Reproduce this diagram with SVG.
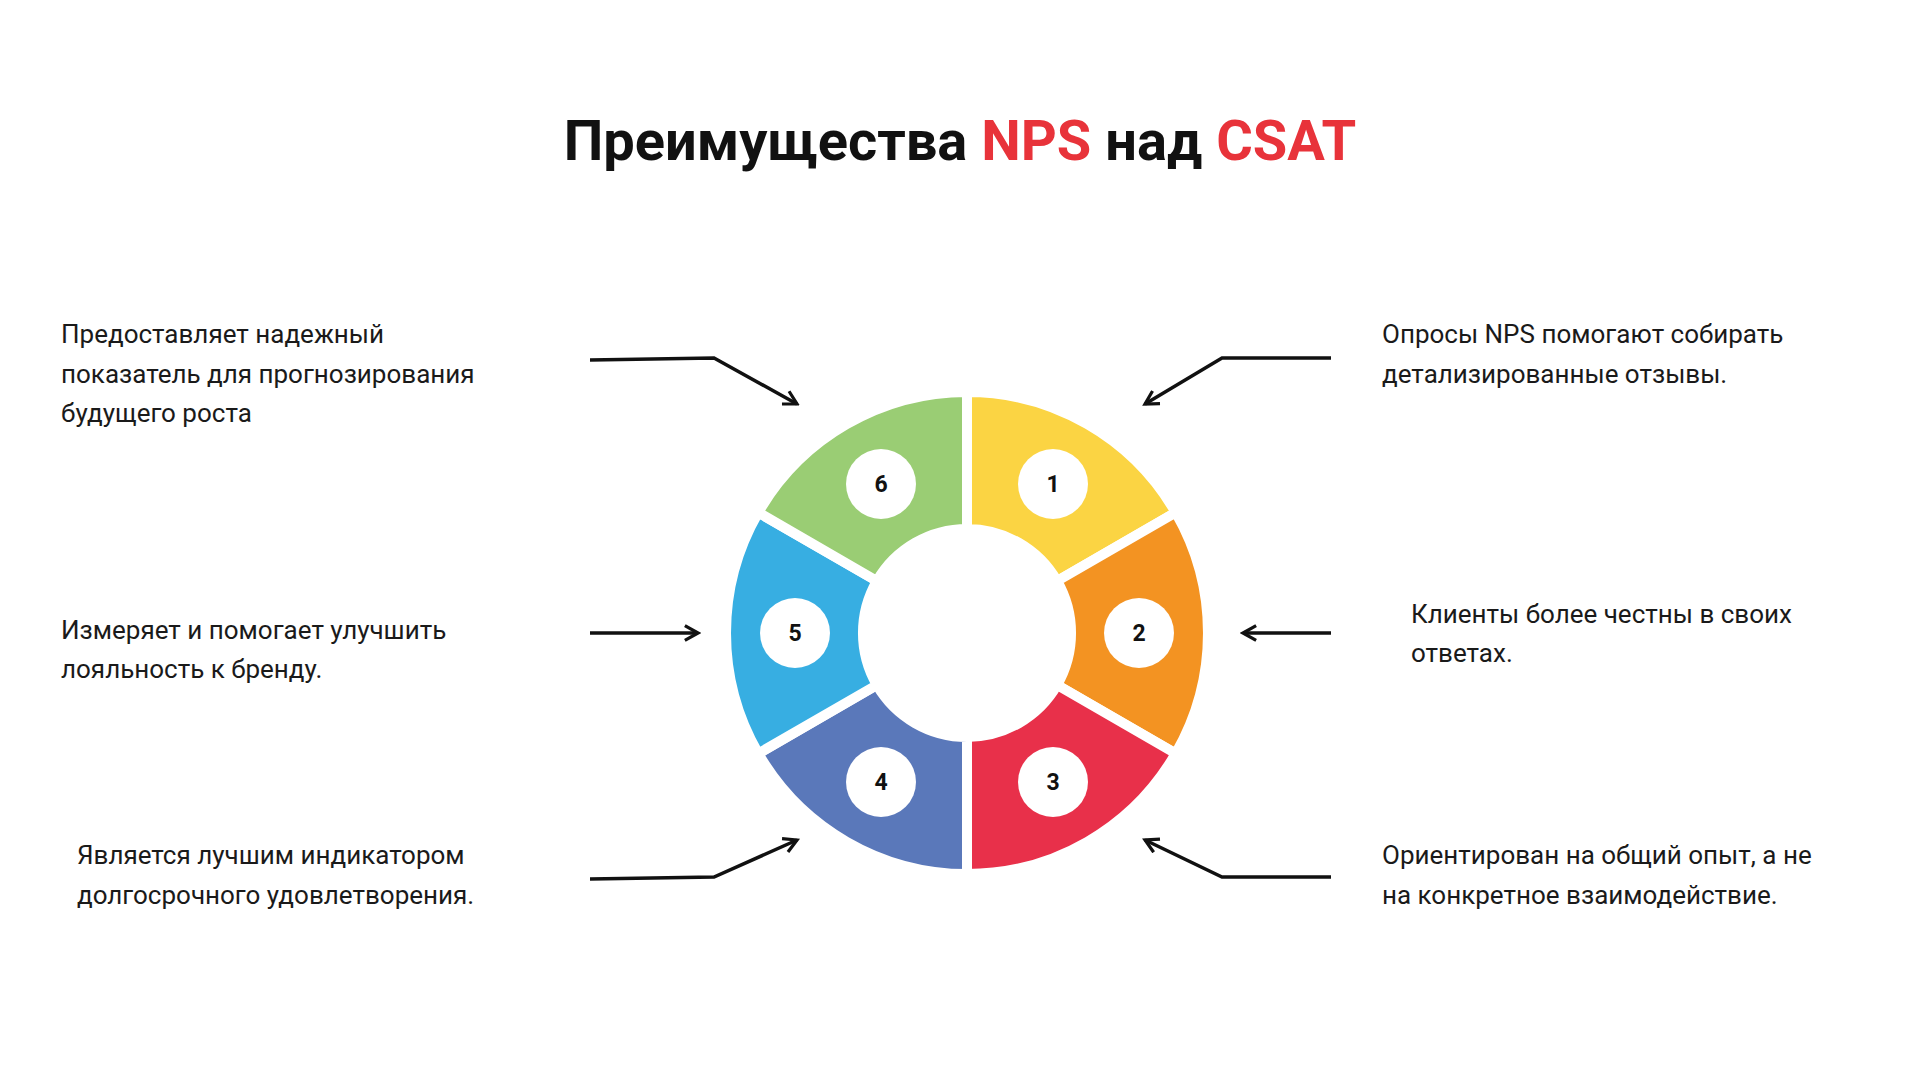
<svg xmlns="http://www.w3.org/2000/svg" width="1920" height="1080" viewBox="0 0 1920 1080">
<defs>
<style>
.t{font-family:Roboto,"Liberation Sans",sans-serif;font-size:26px;fill:#1a1a1a}
.seg{stroke:#fff;stroke-width:10;stroke-linejoin:miter}
.num{font-family:Roboto,"Liberation Sans",sans-serif;font-size:23px;font-weight:bold;fill:#111;text-anchor:middle}
.ar{fill:none;stroke:#111;stroke-width:3.5;marker-end:url(#ah)}
</style>
<marker id="ah" viewBox="0 0 12 12" refX="10" refY="6" markerWidth="5" markerHeight="5" orient="auto" markerUnits="strokeWidth">
<path d="M1,1 L10,6 L1,11" fill="none" stroke="#111" stroke-width="2.2"/>
</marker>
</defs>
<rect width="1920" height="1080" fill="#fff"/>
<text x="960" y="160" text-anchor="middle" font-family="Roboto,'Liberation Sans',sans-serif" font-size="56" font-weight="bold" fill="#111">Преимущества <tspan fill="#E8333A">NPS</tspan> над <tspan fill="#E8333A">CSAT</tspan></text>
<g id="seg1"><path class="seg" fill="#FBD443" d="M967,392 A241,241 0 0 1 1175.7,512.5 L1057.1,581 A104,104 0 0 0 967,529 Z"/><circle cx="1053" cy="484" r="35" fill="#fff"/><text class="num" x="1053" y="492">1</text></g>
<g id="seg2"><path class="seg" fill="#F39322" d="M1175.7,512.5 A241,241 0 0 1 1175.7,753.5 L1057.1,685 A104,104 0 0 0 1057.1,581 Z"/><circle cx="1139" cy="633" r="35" fill="#fff"/><text class="num" x="1139" y="641">2</text></g>
<g id="seg3"><path class="seg" fill="#E8304A" d="M1175.7,753.5 A241,241 0 0 1 967,874 L967,737 A104,104 0 0 0 1057.1,685 Z"/><circle cx="1053" cy="782" r="35" fill="#fff"/><text class="num" x="1053" y="790">3</text></g>
<g id="seg4"><path class="seg" fill="#5A78BA" d="M967,874 A241,241 0 0 1 758.3,753.5 L876.9,685 A104,104 0 0 0 967,737 Z"/><circle cx="881" cy="782" r="35" fill="#fff"/><text class="num" x="881" y="790">4</text></g>
<g id="seg5"><path class="seg" fill="#37AEE2" d="M758.3,753.5 A241,241 0 0 1 758.3,512.5 L876.9,581 A104,104 0 0 0 876.9,685 Z"/><circle cx="795" cy="633" r="35" fill="#fff"/><text class="num" x="795" y="641">5</text></g>
<g id="seg6"><path class="seg" fill="#9ACD74" d="M758.3,512.5 A241,241 0 0 1 967,392 L967,529 A104,104 0 0 0 876.9,581 Z"/><circle cx="881" cy="484" r="35" fill="#fff"/><text class="num" x="881" y="492">6</text></g>
<g id="connectors">
<polyline class="ar" points="590,360 714,358 797,404"/>
<polyline class="ar" points="590,633 698,633"/>
<polyline class="ar" points="590,879 714,877 797,840"/>
<polyline class="ar" points="1331,358 1222,358 1145,404"/>
<polyline class="ar" points="1331,633 1243,633"/>
<polyline class="ar" points="1331,877 1222,877 1145,840"/>
</g>
<g id="txt6"><text class="t" x="61" y="343">Предоставляет надежный</text><text class="t" x="61" y="383">показатель для прогнозирования</text><text class="t" x="61" y="422">будущего роста</text></g>
<g id="txt5"><text class="t" x="61" y="639">Измеряет и помогает улучшить</text><text class="t" x="61" y="678">лояльность к бренду.</text></g>
<g id="txt4"><text class="t" x="77" y="864">Является лучшим индикатором</text><text class="t" x="77" y="904">долгосрочного удовлетворения.</text></g>
<g id="txt1"><text class="t" x="1382" y="343">Опросы NPS помогают собирать</text><text class="t" x="1382" y="383">детализированные отзывы.</text></g>
<g id="txt2"><text class="t" x="1411" y="623">Клиенты более честны в своих</text><text class="t" x="1411" y="662">ответах.</text></g>
<g id="txt3"><text class="t" x="1382" y="864">Ориентирован на общий опыт, а не</text><text class="t" x="1382" y="904">на конкретное взаимодействие.</text></g>
</svg>
